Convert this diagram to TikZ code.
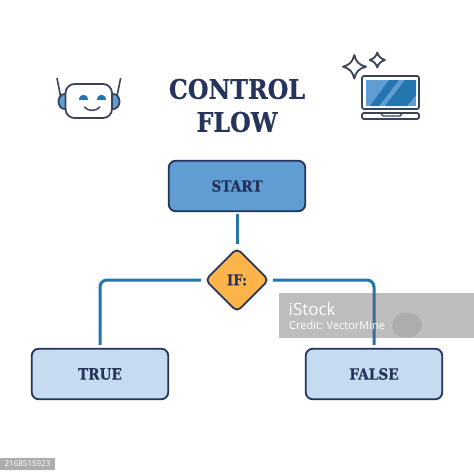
\documentclass[tikz,border=0pt]{standalone}
\usepackage{xcolor}
\usepackage{fontspec}
\setmainfont{DejaVu Serif}[FakeStretch=0.88, BoldFeatures={FakeStretch=0.88, FakeBold=0.5}]
\setsansfont{Open Sans}
\usetikzlibrary{shapes.geometric, positioning}
\definecolor{inkfg}{HTML}{26335a}
\definecolor{linefg}{HTML}{2176ae}
\definecolor{startbg}{HTML}{5f9dd3}
\definecolor{resultbg}{HTML}{c5dcf0}
\definecolor{ifbg}{HTML}{fdb54a}
\definecolor{iconborder}{HTML}{3a4358}
\definecolor{stripefg}{HTML}{2476ae}
\tikzstyle{stepbox} = [rectangle, rounded corners=7pt,
  draw=inkfg, line width=1.8pt, text=inkfg,
  font=\bfseries\fontsize{15.5}{18}\selectfont, align=center,
  minimum width=136.5pt, minimum height=50.5pt, inner sep=0pt]
\tikzstyle{startbox} = [stepbox, fill=startbg]
\tikzstyle{resultbox} = [stepbox, fill=resultbg]
\tikzstyle{decision} = [diamond, rounded corners=5pt,
  fill=ifbg, draw=inkfg, line width=1.8pt, text=inkfg,
  font=\bfseries\fontsize{15}{18}\selectfont, align=center,
  minimum width=64pt, minimum height=64pt, inner sep=0pt]
\tikzstyle{titletext} = [text=inkfg, inner sep=0pt,
  font=\bfseries\fontsize{27}{32}\selectfont]
\tikzstyle{link} = [color=linefg, line width=3pt, rounded corners=7pt]
\tikzstyle{icon} = [draw=iconborder, line width=1.8pt, line join=round]
\tikzstyle{stock} = [text=white, inner sep=0pt, anchor=west]

\begin{document}
\begin{tikzpicture}[x=1pt, y=-1pt]
  \useasboundingbox (0,0) rectangle (474,474);

  \node[titletext] (title1) at (237,89) {CONTROL};
  \node[titletext] (title2) at (237,122) {FLOW};

  \node[startbox] (start) at (237,186) {START};
  \node[decision] (cond) at (237,280) {IF:};
  \node[resultbox] (yes) at (100,374) {TRUE};
  \node[resultbox] (no) at (374,374) {FALSE};

  % Main flow
  \draw[link, shorten <=2pt, shorten >=3pt] (start) -- (cond);
  \draw[link, shorten <=3pt, shorten >=3pt] (cond.west) -| (yes.north);
  \draw[link, shorten <=3pt, shorten >=3pt] (cond.east) -| (no.north);

  % Robot
  \draw[iconborder, line width=1.6pt] (57,78) -- (60.5,96);
  \draw[iconborder, line width=1.6pt] (120.7,78) -- (117,96);
  \draw[icon, fill=startbg] (64.5,101.5) ellipse (6pt and 7.5pt);
  \draw[icon, fill=startbg] (113.5,101.5) ellipse (6pt and 7.5pt);
  \draw[icon, fill=white, rounded corners=9pt] (65.5,84) rectangle (112,118);
  \fill[linefg] (79,100) .. controls (79,92.5) and (87.7,92.5) .. (87.7,100) -- cycle;
  \fill[linefg] (97.3,100) .. controls (97.3,92.5) and (106,92.5) .. (106,100) -- cycle;
  \draw[iconborder, line width=1.5pt, line cap=round] (84.5,107) .. controls (88,111.5) and (96,111.5) .. (100,107);

  % Laptop
  \draw[icon, rounded corners=2pt] (362,76) rectangle (419,109);
  \fill[startbg] (366,80) rectangle (416,106);
  \fill[stripefg] (370,106) -- (379,106) -- (399,80) -- (389,80) -- cycle;
  \fill[stripefg] (385,106) -- (407,106) -- (416,95) -- (416,80) -- (405,80) -- cycle;
  \draw[icon, rounded corners=2pt] (362,113) rectangle (419,119);
  \draw[iconborder, line width=1.4pt] (381,113.5) -- (383,116) -- (400,116) -- (402,113.5);

  % Sparkles
  \draw[icon] (354.3,55) .. controls (356,62) and (359,65) .. (366,66.7)
    .. controls (359,68.5) and (356,71.5) .. (354.3,78.5)
    .. controls (352.5,71.5) and (349.5,68.5) .. (343,66.7)
    .. controls (349.5,65) and (352.5,62) .. (354.3,55) -- cycle;
  \draw[icon] (377.3,52.5) .. controls (378.5,56.5) and (380.5,58.5) .. (385,60)
    .. controls (380.5,61.5) and (378.5,63.5) .. (377.3,67.5)
    .. controls (376,63.5) and (374,61.5) .. (369.8,60)
    .. controls (374,58.5) and (376,56.5) .. (377.3,52.5) -- cycle;

  % Stock marks
  \fill[black!62, opacity=0.42] (279,293) rectangle (474,338);
  \fill[black!70, opacity=0.14] (407,325) ellipse (15pt and 12.5pt);
  \node[stock, font=\sffamily\fontsize{17}{20}\selectfont] (mark) at (288.5,309.5) {iStock};
  \node[stock, font=\sffamily\fontsize{11}{13}\selectfont] (credit) at (289,325.5) {Credit: VectorMine};
  \node[fill=black!32, text=white, inner sep=0pt, minimum width=55pt, minimum height=12pt,
    font=\sffamily\fontsize{8}{9}\selectfont] (code) at (27.5,464) {2168515923};
\end{tikzpicture}
\end{document}
